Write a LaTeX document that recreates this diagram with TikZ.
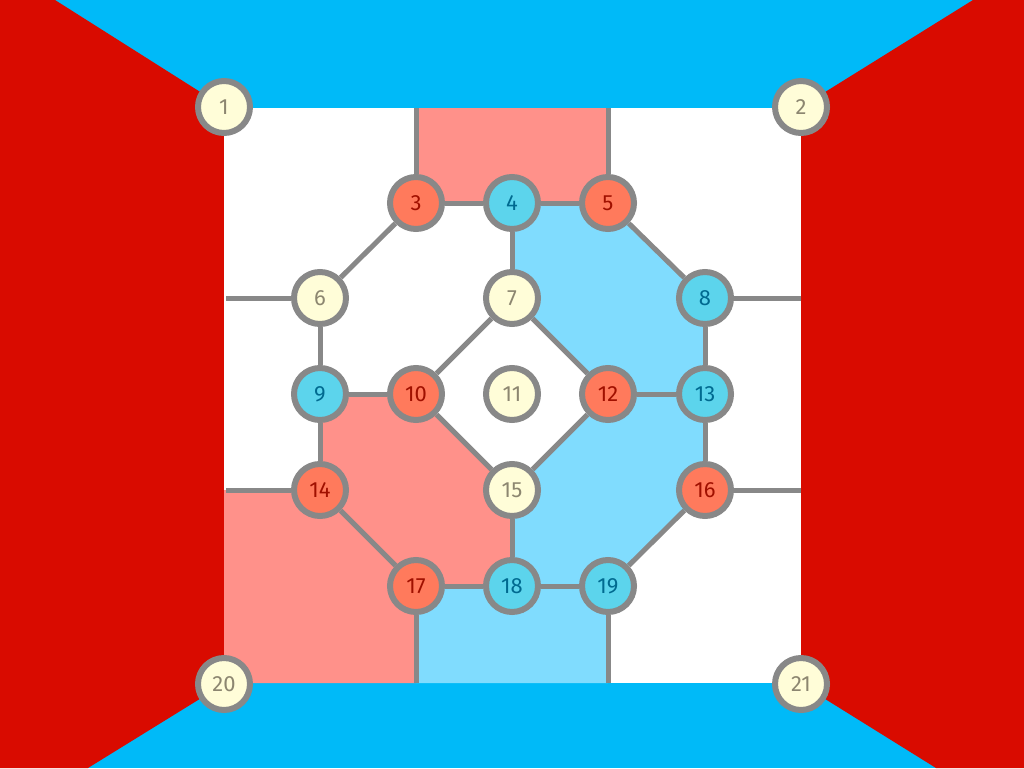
\documentclass[tikz,border=0pt]{standalone}
\usepackage{fontspec}
\setmainfont{Fira Sans}
\definecolor{bandblue}{HTML}{00BAF8}
\definecolor{sidered}{HTML}{D90B00}
\definecolor{salmon}{HTML}{FF918A}
\definecolor{lblue}{HTML}{80DCFE}
\definecolor{nred}{HTML}{FF7A5C}
\definecolor{nblue}{HTML}{5CD4EC}
\definecolor{ncream}{HTML}{FFFDD8}
\definecolor{edgegray}{HTML}{888888}
\definecolor{tred}{HTML}{A01000}
\definecolor{tblue}{HTML}{006A90}
\definecolor{tcream}{HTML}{8C8670}
\tikzset{
  vtx/.style={circle,draw=edgegray,line width=6pt,minimum size=52pt,inner sep=0pt,font=\fontsize{22}{22}\selectfont},
  rv/.style={vtx,fill=nred,text=tred},
  bv/.style={vtx,fill=nblue,text=tblue},
  cv/.style={vtx,fill=ncream,text=tcream},
  edge/.style={draw=edgegray,line width=5pt}
}
\begin{document}
\begin{tikzpicture}[x=1pt,y=-1pt]
\useasboundingbox (0,0) rectangle (1024,768);
% background
\fill[bandblue] (0,0) rectangle (1024,768);
\fill[sidered] (0,0) -- (55,0) -- (224,107) -- (224,684) -- (88,768) -- (0,768) -- cycle;
\fill[sidered] (1024,0) -- (973,0) -- (801,107) -- (801,684) -- (936,768) -- (1024,768) -- cycle;
\fill[white] (224,108) rectangle (801,683);
% regions
\fill[salmon] (416,108) rectangle (608,203);
\fill[lblue] (512,203) -- (608,203) -- (705,298) -- (705,490) -- (608,586) -- (608,683) -- (416,683) -- (416,586) -- (512,586) -- (512,490) -- (608,394) -- (512,298) -- cycle;
\fill[salmon] (320,394) -- (416,394) -- (512,490) -- (512,586) -- (416,586) -- (320,490) -- cycle;
\fill[salmon] (224,490) -- (320,490) -- (416,586) -- (416,683) -- (224,683) -- cycle;
% boundary coordinates
\coordinate (t3) at (416,108);
\coordinate (t5) at (608,108);
\coordinate (l6) at (226,298);
\coordinate (r8) at (801,298);
\coordinate (l14) at (226,490);
\coordinate (r16) at (801,490);
\coordinate (b17) at (416,683);
\coordinate (b19) at (608,683);
% nodes
\node[cv] (n1) at (224,107) {1};
\node[cv] (n2) at (801,107) {2};
\node[rv] (n3) at (416,203) {3};
\node[bv] (n4) at (512,203) {4};
\node[rv] (n5) at (608,203) {5};
\node[cv] (n6) at (320,298) {6};
\node[cv] (n7) at (512,298) {7};
\node[bv] (n8) at (705,298) {8};
\node[bv] (n9) at (320,394) {9};
\node[rv] (n10) at (416,394) {10};
\node[cv] (n11) at (512,394) {11};
\node[rv] (n12) at (608,394) {12};
\node[bv] (n13) at (705,394) {13};
\node[rv] (n14) at (320,490) {14};
\node[cv] (n15) at (512,490) {15};
\node[rv] (n16) at (705,490) {16};
\node[rv] (n17) at (416,586) {17};
\node[bv] (n18) at (512,586) {18};
\node[bv] (n19) at (608,586) {19};
\node[cv] (n20) at (224,684) {20};
\node[cv] (n21) at (801,684) {21};
% edges
\draw[edge] (n3) -- (t3);
\draw[edge] (n5) -- (t5);
\draw[edge] (n3) -- (n4);
\draw[edge] (n4) -- (n5);
\draw[edge] (n3) -- (n6);
\draw[edge] (n4) -- (n7);
\draw[edge] (n5) -- (n8);
\draw[edge] (n6) -- (l6);
\draw[edge] (n8) -- (r8);
\draw[edge] (n6) -- (n9);
\draw[edge] (n8) -- (n13);
\draw[edge] (n7) -- (n10);
\draw[edge] (n7) -- (n12);
\draw[edge] (n9) -- (n10);
\draw[edge] (n12) -- (n13);
\draw[edge] (n9) -- (n14);
\draw[edge] (n13) -- (n16);
\draw[edge] (n10) -- (n15);
\draw[edge] (n12) -- (n15);
\draw[edge] (n14) -- (l14);
\draw[edge] (n16) -- (r16);
\draw[edge] (n14) -- (n17);
\draw[edge] (n16) -- (n19);
\draw[edge] (n15) -- (n18);
\draw[edge] (n17) -- (n18);
\draw[edge] (n18) -- (n19);
\draw[edge] (n17) -- (b17);
\draw[edge] (n19) -- (b19);
\end{tikzpicture}
\end{document}
